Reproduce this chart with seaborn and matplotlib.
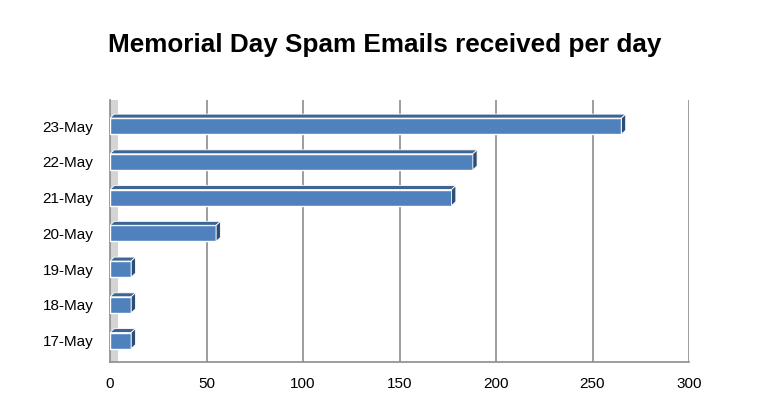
import numpy as np
import pandas as pd
import matplotlib
matplotlib.use('Agg')
import matplotlib.pyplot as plt
from matplotlib.patches import Polygon
import seaborn as sns

days = ['23-May', '22-May', '21-May', '20-May', '19-May', '18-May', '17-May']
spam = [265, 188, 177, 55, 11, 11, 11]
xticks = [0, 50, 100, 150, 200, 250, 300]

df = pd.DataFrame({'day': days, 'spam': spam})

sns.set_style('white')
plt.rcParams['font.family'] = ['Liberation Sans', 'DejaVu Sans']
plt.rcParams['text.color'] = 'black'
plt.rcParams['xtick.color'] = 'black'
plt.rcParams['ytick.color'] = 'black'

fig = plt.figure(figsize=(7.61, 4.2), dpi=100)
ax = fig.add_axes([110/761, 58/420, 579/761, 262/420])

# back wall grid + grey side wall
for v in xticks[1:]:
    ax.axvline(v, color='#8c8c8c', lw=1.2, zorder=0)
ax.axvspan(0, 4, color='#d4d4d4', zorder=0, lw=0)

sns.barplot(data=df, x='spam', y='day', order=days, color='#4F81BD',
            width=0.45, edgecolor='white', linewidth=1.0, saturation=1, ax=ax, zorder=3)

# fake 3D caps on each bar
dx, dy = 2.2, 0.11
for p in list(ax.containers[0]):
    x0 = p.get_x(); x1 = x0 + p.get_width()
    yt = p.get_y(); yb = yt + p.get_height()
    top = [(x0, yt), (x1, yt), (x1 + dx, yt - dy), (x0 + dx, yt - dy)]
    side = [(x1, yt), (x1, yb), (x1 + dx, yb - dy), (x1 + dx, yt - dy)]
    ax.add_patch(Polygon(top, closed=True, fc='#3C6494', ec='white', lw=0.6, zorder=4))
    ax.add_patch(Polygon(side, closed=True, fc='#2C4D75', ec='white', lw=0.6, zorder=4))

ax.set_xlim(0, 300)
ax.set_ylim(6.6, -0.73)
ax.set_xticks(xticks)
ax.set_xticklabels([str(v) for v in xticks], fontsize=11)
ax.set_yticks(range(len(days)))
ax.set_yticklabels(days, fontsize=11)
ax.set_yticks(np.arange(-0.5, len(days), 1), minor=True)
ax.tick_params(axis='y', which='major', length=0, pad=12)
ax.tick_params(axis='y', which='minor', length=5, color='#8c8c8c', direction='out')
ax.tick_params(axis='x', length=5, color='#8c8c8c', direction='out', pad=6)
ax.set_xlabel('')
ax.set_ylabel('')

for s in ['top', 'right']:
    ax.spines[s].set_visible(False)
for s in ['left', 'bottom']:
    ax.spines[s].set_color('#8c8c8c')
    ax.spines[s].set_linewidth(1.2)

fig.text(0.506, 0.893, 'Memorial Day Spam Emails received per day',
         ha='center', va='center', fontsize=18.8, fontweight='bold', color='black')

fig.savefig('out.png', dpi=100, facecolor='white')
